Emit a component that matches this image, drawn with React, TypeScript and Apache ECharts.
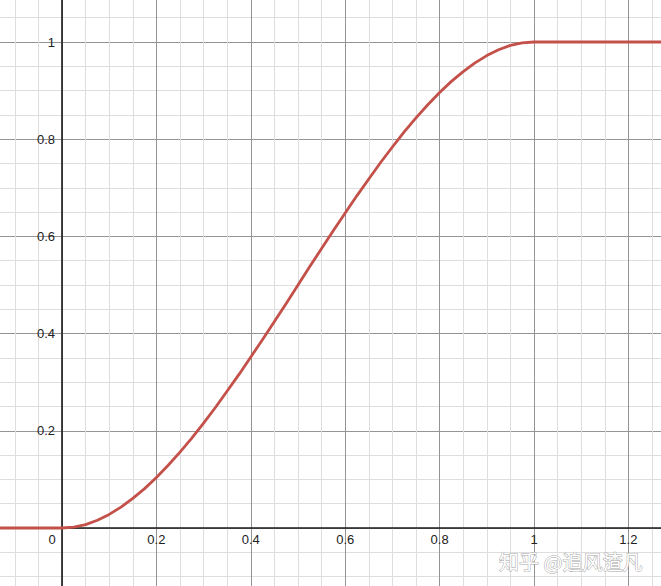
import { useEffect, useRef } from "react";
import * as echarts from "echarts";

// curve: flat at 0, S-shaped rise on [0, 1], flat at 1
const xs = [
  -0.2, 0, 0.025, 0.05, 0.075, 0.1, 0.125, 0.15, 0.175, 0.2, 0.225, 0.25, 0.275, 0.3, 0.325, 0.35, 0.375, 0.4,
  0.425, 0.45, 0.475, 0.5, 0.525, 0.55, 0.575, 0.6, 0.625, 0.65, 0.675, 0.7, 0.725, 0.75, 0.775, 0.8, 0.825,
  0.85, 0.875, 0.9, 0.925, 0.95, 0.975, 1, 1.4,
];
const ys = [
  0, 0, 0.002, 0.007, 0.016, 0.028, 0.043, 0.061, 0.081, 0.104, 0.129, 0.156, 0.185, 0.216, 0.248, 0.282, 0.316,
  0.352, 0.388, 0.425, 0.462, 0.5, 0.538, 0.575, 0.612, 0.648, 0.684, 0.718, 0.752, 0.784, 0.815, 0.844, 0.871,
  0.896, 0.919, 0.939, 0.957, 0.972, 0.984, 0.993, 0.998, 1, 1,
];

const xRange = [-0.2, 1.4];
const yRange = [-0.2, 1.2];
const xLabels = ["0", "0.2", "0.4", "0.6", "0.8", "1", "1.2"];
const yLabels = ["0.2", "0.4", "0.6", "0.8", "1"];
const watermark = "知乎 @追风渣凡";

const FONT = "Arial, 'Liberation Sans', sans-serif";
const PX_X = 472; // pixels per unit
const PX_Y = 486;

const fmt = (v: number) => String(Math.round(v * 10) / 10);

export default function App() {
  const ref = useRef<HTMLDivElement>(null);

  useEffect(() => {
    if (!ref.current) return;
    const chart = echarts.init(ref.current, null, { renderer: "svg" });

    const gridLines = {
      splitLine: { show: true, lineStyle: { color: "#949494", width: 1 } },
      minorTick: { show: false, splitNumber: 4 },
      minorSplitLine: { show: true, lineStyle: { color: "#dedede", width: 1 } },
      axisTick: { show: false },
      axisLine: { show: true, onZero: false, lineStyle: { color: "#1a1a1a", width: 1.6 } },
    };

    chart.setOption({
      animation: false,
      backgroundColor: "#ffffff",
      // grid runs past the page edges so the visible window is about -0.13..1.27 by -0.12..1.09
      grid: { left: -32.4, right: -61.8, top: -55.2, bottom: -39.2, outerBoundsMode: "none", containLabel: false },
      xAxis: {
        type: "value",
        position: "bottom",
        offset: yRange[0] * PX_Y, // pull the axis up to y = 0
        min: xRange[0],
        max: xRange[1],
        interval: 0.2,
        ...gridLines,
        axisLabel: {
          margin: 4,
          fontSize: 13,
          lineHeight: 14,
          fontFamily: FONT,
          color: "#222",
          formatter: (v: number) => {
            const s = fmt(v);
            if (!xLabels.includes(s)) return "";
            return s === "0" ? "{z|0}" : s;
          },
          rich: { z: { fontSize: 13, lineHeight: 14, fontFamily: FONT, color: "#222", padding: [0, 20, 0, 0] } },
        },
      },
      yAxis: {
        type: "value",
        position: "left",
        offset: xRange[0] * PX_X, // pull the axis right to x = 0
        min: yRange[0],
        max: yRange[1],
        interval: 0.2,
        ...gridLines,
        axisLabel: {
          margin: 7,
          fontSize: 13,
          fontFamily: FONT,
          color: "#222",
          formatter: (v: number) => (yLabels.includes(fmt(v)) ? fmt(v) : ""),
        },
      },
      series: [
        {
          type: "line",
          data: xs.map((x, i) => [x, ys[i]]),
          showSymbol: false,
          smooth: false,
          lineStyle: { color: "#c4504a", width: 2.8, join: "round" },
          z: 5,
        },
      ],
      graphic: [
        {
          type: "text",
          right: 18,
          top: 551,
          z: 10,
          style: {
            text: watermark,
            font: "20px 'Noto Sans CJK SC'",
            lineHeight: 20,
            fill: "#ffffff",
            stroke: "#a8a8a8",
            lineWidth: 1,
          },
        },
      ],
    });

    return () => {
      chart.dispose();
    };
  }, []);

  return (
    <div
      ref={ref}
      style={{ position: "fixed", left: 0, top: 0, width: 661, height: 586, overflow: "hidden", background: "#fff" }}
    />
  );
}
